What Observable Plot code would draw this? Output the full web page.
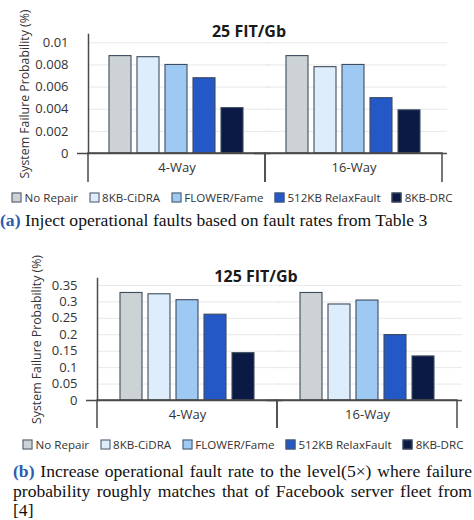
<!DOCTYPE html>
<html><head><meta charset="utf-8">
<script src="https://cdn.jsdelivr.net/npm/d3@7"></script>
<script src="https://cdn.jsdelivr.net/npm/@observablehq/plot@0.6"></script>
<style>
body{margin:0;background:#fff;}
#root{position:relative;width:474px;height:520px;overflow:hidden;font-family:"Open Sans",sans-serif;}
.abs{position:absolute;}
.title{font-weight:700;font-size:16px;color:#1a1a1a;transform:translate(-50%,-50%);white-space:nowrap;}
.legend{display:flex;gap:11px;font-size:11.6px;color:#333;white-space:nowrap;transform:translate(-50%,-50%);align-items:center}
.legend .it{display:flex;align-items:center}
.legend .sw{display:inline-block;width:8px;height:8px;border:1px solid #4a5566;margin-right:3px;}
.cap{font-family:"Liberation Serif",serif;font-size:17.6px;color:#111;white-space:nowrap;line-height:19.5px}
.cap b{color:#2a5db0}
.just{text-align:justify;text-align-last:justify;}
</style></head><body><div id="root"></div>
<script>
const groups = ["4-Way", "16-Way"];
const series = ["No Repair", "8KB-CiDRA", "FLOWER/Fame", "512KB RelaxFault", "8KB-DRC"];
const colors = ["#cdd3d5", "#deedfb", "#9ec9f2", "#2458c6", "#0b1a45"];
const yLabel = "System Failure Probability (%)";

const title25 = "25 FIT/Gb";
const ticks25 = [0, 0.002, 0.004, 0.006, 0.008, 0.01];
const vals25_4way = [0.0088, 0.0087, 0.0080, 0.0068, 0.0041];
const vals25_16way = [0.0088, 0.0078, 0.0080, 0.0050, 0.0039];

const title125 = "125 FIT/Gb";
const ticks125 = [0, 0.05, 0.1, 0.15, 0.2, 0.25, 0.3, 0.35];
const vals125_4way = [0.327, 0.323, 0.305, 0.261, 0.144];
const vals125_16way = [0.327, 0.292, 0.304, 0.199, 0.134];

const root = document.getElementById("root");

function table(v4, v16) {
  return groups.flatMap((g, gi) => series.map((s, i) => ({group: g, series: s, value: (gi ? v16 : v4)[i]})));
}

function chart({data, ticks, ymax, top, height, mt, mb, ml, mr, labelOffset}) {
  const axisColor = "#4a4a4a";
  const svg = Plot.plot({
    width: 474, height,
    marginTop: mt, marginBottom: mb, marginLeft: ml, marginRight: mr,
    style: {overflow: "hidden", background: "transparent", fontFamily: "Open Sans", fontSize: "12px", color: "#333"},
    fx: {domain: groups, padding: 0, label: null},
    x: {domain: series, paddingInner: 0.2, paddingOuter: 0.725, axis: null},
    y: {domain: [0, ymax]},
    color: {domain: series, range: colors},
    marks: [
      Plot.ruleY(ticks.slice(1), {stroke: "#e8e8e8", strokeWidth: 1, insetRight: -5}),
      Plot.axisY(ticks, {tickSize: 0, tickPadding: 20, fontSize: 13, tickFormat: d => String(d),
        label: yLabel, labelAnchor: "center", labelOffset, labelArrow: "none"}),
      Plot.axisFx({anchor: "bottom", tickSize: 0, tickPadding: 9, fontSize: 13, label: null}),
      Plot.barY(data, {fx: "group", x: "series", y: "value", fill: "series", stroke: "#3e4b5e", strokeWidth: 1.1}),
      Plot.rectY(groups, {fx: d => d, y1: 0, y2: -ymax * 10, fill: "none", stroke: axisColor, strokeWidth: 1.5}),
      Plot.ruleY([0], {stroke: axisColor, strokeWidth: 1.5, insetLeft: -11, insetRight: -5}),
      Plot.frame({anchor: "left", facet: "super", stroke: axisColor, strokeWidth: 1.5})
    ]
  });
  svg.querySelectorAll('g[aria-label="y-axis label"]').forEach(g => g.setAttribute("font-size", "12.3"));
  svg.querySelectorAll('g[aria-label="y-axis label"] text').forEach(t => t.setAttribute("font-size", "12.3"));
  svg.style.position = "absolute";
  svg.style.left = "0px";
  svg.style.top = top + "px";
  root.appendChild(svg);
}

function addTitle(text, x, y) {
  const d = document.createElement("div");
  d.className = "abs title"; d.textContent = text;
  d.style.left = x + "px"; d.style.top = y + "px";
  root.appendChild(d);
}

function addLegend(x, y) {
  const d = document.createElement("div");
  d.className = "abs legend";
  d.style.left = x + "px"; d.style.top = y + "px";
  series.forEach((s, i) => {
    const it = document.createElement("div"); it.className = "it";
    const sw = document.createElement("span"); sw.className = "sw"; sw.style.background = colors[i];
    it.appendChild(sw);
    it.appendChild(document.createTextNode(s));
    d.appendChild(it);
  });
  root.appendChild(d);
}

chart({data: table(vals25_4way, vals25_16way), ticks: ticks25, ymax: 0.01075, top: 0, height: 182, mt: 34, mb: 29, ml: 88, mr: 32, labelOffset: 68});
addTitle(title25, 249, 31);
addLegend(232, 197);

chart({data: table(vals125_4way, vals125_16way), ticks: ticks125, ymax: 0.371, top: 250, height: 178, mt: 28, mb: 28, ml: 97, mr: 17, labelOffset: 65});
addTitle(title125, 256, 276);
addLegend(243, 444);

const capA = document.createElement("div");
capA.className = "abs cap";
capA.style.left = "0px"; capA.style.top = "211px";
capA.innerHTML = "<b>(a)</b> Inject operational faults based on fault rates from Table 3";
root.appendChild(capA);

const capB = document.createElement("div");
capB.className = "abs cap";
capB.style.left = "13px"; capB.style.top = "462px"; capB.style.width = "459px";
capB.innerHTML = '<div class="just"><b>(b)</b> Increase operational fault rate to the level(5×) where failure</div>' +
  '<div class="just">probability roughly matches that of Facebook server fleet from</div><div>[4]</div>';
root.appendChild(capB);
</script></body></html>
